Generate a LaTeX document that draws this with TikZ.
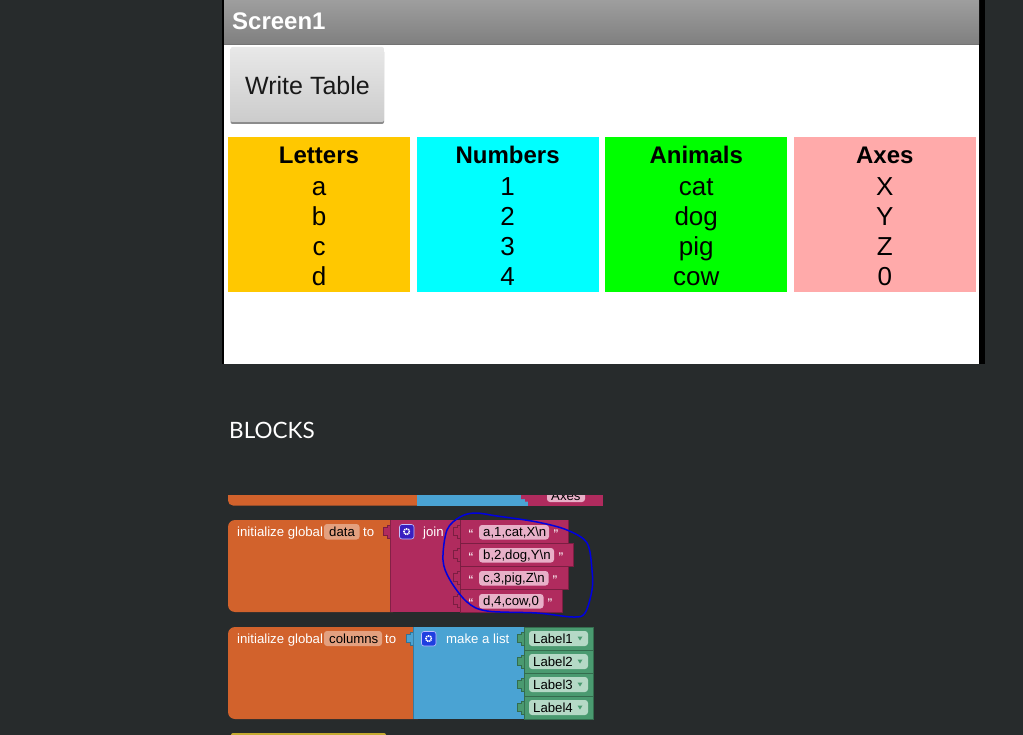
\documentclass[tikz,border=0pt]{standalone}
\usepackage{fontspec}
\setmainfont{Liberation Sans}
\newfontfamily\headfont{Lato}
\usepackage{xcolor}
\definecolor{colorPage}{HTML}{272B2C}
\definecolor{colorOrange}{HTML}{D2622C}
\definecolor{colorOrangeField}{HTML}{E3A07F}
\definecolor{colorCrimson}{HTML}{B02B5E}
\definecolor{colorCrimsonField}{HTML}{E8B0C8}
\definecolor{colorBlue}{HTML}{4AA3D3}
\definecolor{colorGreen}{HTML}{4A9A70}
\definecolor{colorGreenField}{HTML}{B5D9C6}
\definecolor{colorGear}{HTML}{3A1FC0}
\definecolor{colorGearBlue}{HTML}{1F3FE0}
\definecolor{colorLetters}{HTML}{FFC800}
\definecolor{colorNumbers}{HTML}{00FFFF}
\definecolor{colorAnimals}{HTML}{00FF00}
\definecolor{colorAxes}{HTML}{FFAAAA}
\definecolor{colorInk}{HTML}{0000E0}
\usetikzlibrary{positioning}
\tikzset{
  cellbox/.style={anchor=north west, minimum width=182pt, minimum height=155pt, inner sep=0pt, outer sep=0pt, align=center, text=black, font=\fontsize{26}{30}\selectfont},
  blocktext/.style={inner sep=0pt, anchor=base west, text=white, font=\fontsize{13.2}{15}\selectfont},
  fieldtext/.style={inner sep=0pt, anchor=base west, text=black, font=\fontsize{13.2}{15}\selectfont},
  fieldbox/.style={rounded corners=3pt},
  quotetext/.style={inner sep=0pt, anchor=base, text=white, font=\fontsize{14}{15}\selectfont},
  gearbox/.style={rounded corners=2.5pt, draw=white!75!blue, line width=0.6pt},
  gearmark/.style={draw=white, line width=1.6pt, dash pattern=on 1.2pt off 0.7pt},
  edgeline/.style={line width=0.5pt},
  pics/blocktab/.style={code={\path[pic actions] (0,-6.5) -- (-3,-6.5) -- (-3,-4) -- (-7,-4) -- (-7,4) -- (-3,4) -- (-3,6.5) -- (0,6.5);}}
}
\newcommand{\cellhead}[1]{{\fontsize{24}{30}\bfseries\rule{0pt}{28pt}\raisebox{1.5pt}{#1}}}
\newcommand{\celltail}[1]{#1\rule[-6pt]{0pt}{6pt}}
\begin{document}
\begin{tikzpicture}[x=1pt, y=-1pt]
\useasboundingbox (0,0) rectangle (1023,735);
\fill[colorPage] (0,0) rectangle (1023,735);
\fill[black] (222,0) rectangle (985,364);
\fill[white] (224,45) rectangle (979,364);
\shade[top color=black!38, bottom color=black!50] (224,0) rectangle (979,44);
\fill[black!55] (224,44) rectangle (979,45.5);
\node[inner sep=0pt, anchor=base west, text=white, font=\fontsize{24}{28}\bfseries] (screenTitle) at (232,30) {Screen1};
\fill[black!45, rounded corners=2pt] (230.5,50) rectangle (384,124);
\shade[top color=black!9, bottom color=black!20, rounded corners=2pt] (230.5,47) rectangle (384,122);
\node[inner sep=0pt, text=black!90, font=\fontsize{25}{28}\selectfont] (writeTable) at (307.5,86) {Write Table};
\node[cellbox, fill=colorLetters] (cellLetters) at (228,137) {\cellhead{Letters}\\a\\b\\c\\\celltail{d}};
\node[cellbox, fill=colorNumbers, right=6.6pt of cellLetters] (cellNumbers) {\cellhead{Numbers}\\1\\2\\3\\\celltail{4}};
\node[cellbox, fill=colorAnimals, right=6.6pt of cellNumbers] (cellAnimals) {\cellhead{Animals}\\cat\\dog\\pig\\\celltail{cow}};
\node[cellbox, fill=colorAxes, right=6.6pt of cellAnimals] (cellAxes) {\cellhead{Axes}\\X\\Y\\Z\\\celltail{0}};
\node[inner sep=0pt, anchor=base west, text=white, font=\fontsize{22.5}{26}\headfont] (blocksTitle) at (229,438) {BLOCKS};
\begin{scope}
\clip (220,495) rectangle (610,510);
\fill[colorOrange, rounded corners=5pt] (425,480) -| (228,505.5) -| (425,480);
\fill[colorBlue] (417,480) rectangle (528,505.5);
\fill[colorCrimson] (528,480) rectangle (603,505.5);
\pic[fill=colorCrimson] at (528,495) {blocktab};
\fill[colorCrimsonField, fieldbox] (547,488) rectangle (585,502);
\node[fieldtext] (fieldAxes) at (551,500) {Axes};
\end{scope}
\fill[colorOrange, rounded corners=7pt] (400,520) -| (228,612) -| (400,520);
\fill[colorCrimson] (390,520) rectangle (461,612);
\fill[colorCrimson!75!black] (390,520) rectangle (391,612);
\pic[fill=colorCrimson, draw=colorCrimson!70!black, line width=0.4pt] at (390,531.5) {blocktab};
\node[blocktext] (initData) at (237,536) {initialize global};
\fill[colorOrangeField, fieldbox] (324,524) rectangle (359.5,539.5);
\node[fieldtext] (fieldData) at (329,536) {data};
\node[blocktext] (toData) at (363,536) {to};
\fill[colorGear, gearbox] (399.5,524.5) rectangle (414,539);
\draw[gearmark] (406.7,531.7) circle (2.8pt);
\node[blocktext] (joinText) at (423,536) {join};
\fill[colorCrimson] (460,520) rectangle (568.5,543);
\fill[colorCrimson] (460,543) rectangle (573,566);
\fill[colorCrimson] (460,566) rectangle (568,589);
\fill[colorCrimson] (460,589) rectangle (562.5,612);
\draw[colorCrimson!70!black, edgeline] (460,543) -- (573,543) -- (573,566) -- (460,566);
\draw[colorCrimson!70!black, edgeline] (460,589) -- (568,589) -- (568,566);
\draw[colorCrimson!70!black, edgeline] (460,520) -- (460,612) -- (562.5,612) -- (562.5,589);
\draw[colorCrimson!70!black, edgeline] (568.5,520) -- (568.5,543);
\pic[fill=colorCrimson, draw=colorCrimson!70!black, line width=0.4pt] at (460,531.5) {blocktab};
\pic[fill=colorCrimson, draw=colorCrimson!70!black, line width=0.4pt] at (460,554.5) {blocktab};
\pic[fill=colorCrimson, draw=colorCrimson!70!black, line width=0.4pt] at (460,577.5) {blocktab};
\pic[fill=colorCrimson, draw=colorCrimson!70!black, line width=0.4pt] at (460,600.5) {blocktab};
\fill[colorCrimsonField, fieldbox] (479,525) rectangle (549,539.5);
\fill[colorCrimsonField, fieldbox] (479,548) rectangle (554,562.5);
\fill[colorCrimsonField, fieldbox] (479,571) rectangle (548.5,585.5);
\fill[colorCrimsonField, fieldbox] (479,594) rectangle (543.5,608.5);
\node[fieldtext] (textA) at (483,536.5) {a,1,cat,X\textbackslash n};
\node[fieldtext] (textB) at (483,559.5) {b,2,dog,Y\textbackslash n};
\node[fieldtext] (textC) at (483,582.5) {c,3,pig,Z\textbackslash n};
\node[fieldtext] (textD) at (483,605.5) {d,4,cow,0};
\node[quotetext] (openA) at (471,539) {``};
\node[quotetext] (openB) at (471,562) {``};
\node[quotetext] (openC) at (471,585) {``};
\node[quotetext] (openD) at (471,608) {``};
\node[quotetext] (closeA) at (556,539) {''};
\node[quotetext] (closeB) at (561,562) {''};
\node[quotetext] (closeC) at (555,585) {''};
\node[quotetext] (closeD) at (550,608) {''};
\fill[colorOrange, rounded corners=7pt] (425,627) -| (228,719) -| (425,627);
\fill[colorBlue] (413,627) rectangle (524,719);
\fill[colorBlue!75!black] (413,627) rectangle (414,719);
\pic[fill=colorBlue, draw=colorBlue!70!black, line width=0.4pt] at (413,638.5) {blocktab};
\node[blocktext] (initColumns) at (237,643) {initialize global};
\fill[colorOrangeField, fieldbox] (324,631) rectangle (382,646);
\node[fieldtext] (fieldColumns) at (329,643) {columns};
\node[blocktext] (toColumns) at (385,643) {to};
\fill[colorGearBlue, gearbox] (421.5,631.5) rectangle (436,646);
\draw[gearmark] (428.7,638.7) circle (2.8pt);
\node[blocktext] (makeList) at (446,643) {make a list};
\fill[colorGreen] (524,627) rectangle (593,650);
\fill[colorGreen] (524,650) rectangle (593,673);
\fill[colorGreen] (524,673) rectangle (593,696);
\fill[colorGreen] (524,696) rectangle (593,719);
\draw[colorGreen!70!black, edgeline] (524,650) -- (593,650);
\draw[colorGreen!70!black, edgeline] (524,673) -- (593,673);
\draw[colorGreen!70!black, edgeline] (524,696) -- (593,696);
\draw[colorGreen!70!black, edgeline] (524,627) rectangle (593,719);
\pic[fill=colorGreen, draw=colorGreen!70!black, line width=0.4pt] at (524,638.5) {blocktab};
\pic[fill=colorGreen, draw=colorGreen!70!black, line width=0.4pt] at (524,661.5) {blocktab};
\pic[fill=colorGreen, draw=colorGreen!70!black, line width=0.4pt] at (524,684.5) {blocktab};
\pic[fill=colorGreen, draw=colorGreen!70!black, line width=0.4pt] at (524,707.5) {blocktab};
\fill[colorGreenField, fieldbox] (529,631) rectangle (588,646);
\fill[colorGreenField, fieldbox] (529,654) rectangle (588,669);
\fill[colorGreenField, fieldbox] (529,677) rectangle (588,692);
\fill[colorGreenField, fieldbox] (529,700) rectangle (588,715);
\node[fieldtext] (labelOne) at (533,643) {Label1};
\node[fieldtext] (labelTwo) at (533,666) {Label2};
\node[fieldtext] (labelThree) at (533,689) {Label3};
\node[fieldtext] (labelFour) at (533,712) {Label4};
\fill[colorGreen] (577.5,636.5) -- (582.5,636.5) -- (580,640.5) -- cycle;
\fill[colorGreen] (577.5,659.5) -- (582.5,659.5) -- (580,663.5) -- cycle;
\fill[colorGreen] (577.5,682.5) -- (582.5,682.5) -- (580,686.5) -- cycle;
\fill[colorGreen] (577.5,705.5) -- (582.5,705.5) -- (580,709.5) -- cycle;
\fill[yellow!70!orange!75!black, rounded corners=2pt] (231,733) rectangle (386,740);
\draw[colorInk, line width=1.5pt] plot[smooth cycle, tension=0.55] coordinates {(475,513) (497,516) (537,522) (567,530) (587,543) (592,570) (592,590) (585,613) (573,617) (537,613) (487,611) (467,602) (450,580) (443,560) (447,530) (460,517)};
\end{tikzpicture}
\end{document}
